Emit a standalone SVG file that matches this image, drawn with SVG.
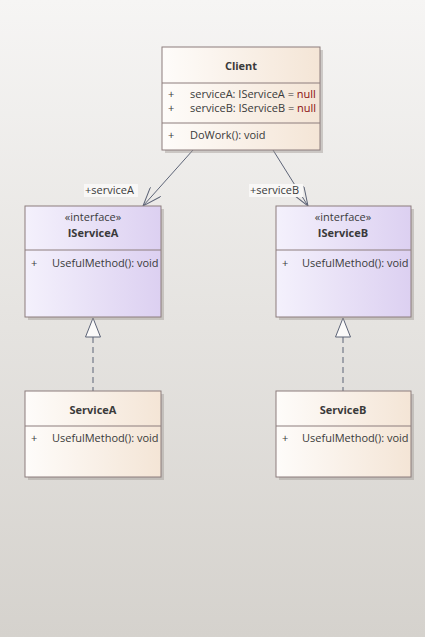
<svg xmlns="http://www.w3.org/2000/svg" width="425" height="637" viewBox="0 0 425 637">
<defs>
<linearGradient id="bg" x1="0" y1="0" x2="0" y2="1">
<stop offset="0" stop-color="#f6f5f4"/>
<stop offset="1" stop-color="#d5d2cd"/>
</linearGradient>
<linearGradient id="cls" x1="0" y1="0" x2="1" y2="0">
<stop offset="0" stop-color="#fefcfa"/>
<stop offset="1" stop-color="#f4e5d6"/>
</linearGradient>
<linearGradient id="ifc" x1="0" y1="0" x2="1" y2="0">
<stop offset="0" stop-color="#f4f1fc"/>
<stop offset="1" stop-color="#dcd0f1"/>
</linearGradient>
<marker id="open" viewBox="0 0 20 14" refX="19" refY="7" markerWidth="20" markerHeight="14" markerUnits="userSpaceOnUse" orient="auto">
<path d="M0,0 L19,7 L0,14" fill="none" stroke="#5d6477" stroke-width="1"/>
</marker>
</defs>
<style>
text{font-family:"Open Sans","Liberation Sans",sans-serif;font-size:11px;fill:#3a3a3a}
.b{font-weight:bold;text-anchor:middle}
.m{text-anchor:middle}
.box{stroke:#8c7d7d;stroke-width:1}
.sh{fill:#a09a94;opacity:0.45}
.div{stroke:#8c7d7d;stroke-width:1}
.n{fill:#8b1010}
.lbl{fill:#f8f7f6}
.con{stroke:#5d6477;stroke-width:1;fill:none}
</style>
<rect width="425" height="637" fill="url(#bg)"/>

<g id="connectors">
<line class="con" x1="193" y1="150" x2="143" y2="206" marker-end="url(#open)"/>
<line class="con" x1="273" y1="150" x2="308" y2="206" marker-end="url(#open)"/>
<line class="con" x1="93" y1="337" x2="93" y2="391" stroke-dasharray="6,4"/>
<line class="con" x1="343" y1="337" x2="343" y2="391" stroke-dasharray="6,4"/>
<polygon points="93,318 85.5,337 100.5,337" fill="#fbfaf9" stroke="#5d6477" stroke-width="1"/>
<polygon points="343,318 335.5,337 350.5,337" fill="#fbfaf9" stroke="#5d6477" stroke-width="1"/>
<rect class="lbl" x="84" y="184" width="54" height="13"/>
<text x="85" y="194">+serviceA</text>
<rect class="lbl" x="249" y="184" width="54" height="13"/>
<text x="250" y="194">+serviceB</text>
</g>

<g id="Client">
<rect class="sh" x="165" y="50" width="158" height="103"/>
<rect class="box" x="162" y="47" width="158" height="103" fill="url(#cls)"/>
<text class="b" x="241" y="70">Client</text>
<line class="div" x1="162" y1="83" x2="320" y2="83"/>
<text x="168" y="98">+</text>
<text x="190" y="98">serviceA: IServiceA = <tspan class="n">null</tspan></text>
<text x="168" y="112">+</text>
<text x="190" y="112">serviceB: IServiceB = <tspan class="n">null</tspan></text>
<line class="div" x1="162" y1="123" x2="320" y2="123"/>
<text x="168" y="139">+</text>
<text x="190" y="139">DoWork(): void</text>
</g>

<g id="IServiceA">
<rect class="sh" x="28" y="209" width="136" height="111"/>
<rect class="box" x="25" y="206" width="136" height="111" fill="url(#ifc)"/>
<text class="m" x="93" y="221">«interface»</text>
<text class="b" x="93" y="237">IServiceA</text>
<line class="div" x1="25" y1="250" x2="161" y2="250"/>
<text x="31" y="267">+</text>
<text x="52" y="267">UsefulMethod(): void</text>
</g>

<g id="IServiceB">
<rect class="sh" x="279" y="209" width="135" height="111"/>
<rect class="box" x="276" y="206" width="135" height="111" fill="url(#ifc)"/>
<text class="m" x="343" y="221">«interface»</text>
<text class="b" x="343" y="237">IServiceB</text>
<line class="div" x1="276" y1="250" x2="411" y2="250"/>
<text x="282" y="267">+</text>
<text x="302" y="267">UsefulMethod(): void</text>
</g>

<g id="ServiceA">
<rect class="sh" x="28" y="394" width="136" height="86"/>
<rect class="box" x="25" y="391" width="136" height="86" fill="url(#cls)"/>
<text class="b" x="93" y="414">ServiceA</text>
<line class="div" x1="25" y1="426" x2="161" y2="426"/>
<text x="31" y="442">+</text>
<text x="52" y="442">UsefulMethod(): void</text>
</g>

<g id="ServiceB">
<rect class="sh" x="279" y="394" width="135" height="86"/>
<rect class="box" x="276" y="391" width="135" height="86" fill="url(#cls)"/>
<text class="b" x="343" y="414">ServiceB</text>
<line class="div" x1="276" y1="426" x2="411" y2="426"/>
<text x="282" y="442">+</text>
<text x="302" y="442">UsefulMethod(): void</text>
</g>
</svg>
